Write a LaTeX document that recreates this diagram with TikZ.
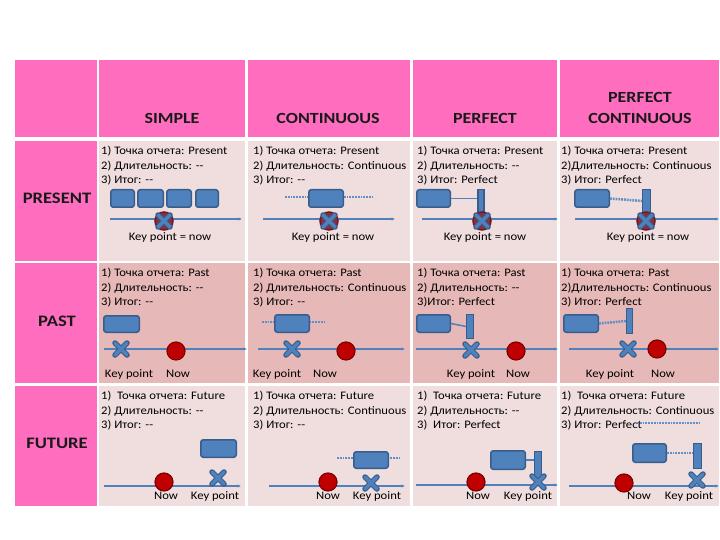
\documentclass[tikz,border=0pt]{standalone}
\usepackage{fontspec}
\setmainfont{Carlito}
\newfontfamily\celfont{Carlito}[FakeStretch=1.1]
\newfontfamily\ttlfont{Carlito}[FakeStretch=1.16]
\usetikzlibrary{arrows.meta,shapes.misc}
\definecolor{pnk}{HTML}{FF6DBE}
\definecolor{lit}{HTML}{F0DEDE}
\definecolor{drk}{HTML}{E6B9B8}
\definecolor{blu}{HTML}{4F81BD}
\definecolor{bluedge}{HTML}{385D8A}
\definecolor{rd}{HTML}{C00000}
\definecolor{rdedge}{HTML}{7F0000}
\definecolor{keyrd}{HTML}{8C2D3E}
\definecolor{keyedge}{HTML}{6B1A2A}
\tikzset{
    celpnk/.style={draw=none,fill=pnk,inner sep=0pt,outer sep=0pt},
    cellit/.style={draw=none,fill=lit,inner sep=0pt,outer sep=0pt},
    celdrk/.style={draw=none,fill=drk,inner sep=0pt,outer sep=0pt},
    hdrtxt/.style={font=\ttlfont\fontsize{15.5}{21}\selectfont\bfseries,align=center,text=black!90},
    rowtxt/.style={font=\ttlfont\fontsize{16}{19}\selectfont\bfseries,text=black!90},
    celtxt/.style={font=\celfont\fontsize{11.5}{14.5}\selectfont,align=left,anchor=north west,inner sep=0pt},
    tagtxt/.style={font=\celfont\fontsize{11.5}{13}\selectfont,inner sep=0pt},
    boxblu/.style={draw=bluedge,fill=blu,line width=1.5pt,rounded corners=2.5pt,inner sep=0pt},
    barblu/.style={draw=bluedge,fill=blu,line width=1.2pt,inner sep=0pt},
    cirred/.style={circle,draw=rdedge,fill=rd,line width=1.2pt,minimum size=18pt,inner sep=0pt},
    cirkey/.style={circle,draw=keyedge,fill=keyrd,line width=1.5pt,minimum size=18pt,inner sep=0pt},
    crsblu/.style={cross out,draw=bluedge,double=blu,double distance=3.5pt,line width=1pt,line cap=round,minimum size=11pt,inner sep=0pt},
    timeline/.style={draw=blu,line width=1.3pt,-{Latex[length=3.5pt,width=3.5pt]}},
    dotline/.style={draw=blu!90,line width=2.5pt,dash pattern=on 1.8pt off 1pt},
    link/.style={draw=blu,line width=1.5pt}
}
\begin{document}
\begin{tikzpicture}[x=1pt,y=-1pt]
    \useasboundingbox (0,0) rectangle (720,540);

    % table cells
    \node[celpnk,minimum width=82,minimum height=77] (hdrcorner) at (56,98.5) {};
    \node[celpnk,minimum width=146,minimum height=77] (hdrsimple) at (172,98.5) {};
    \node[celpnk,minimum width=162,minimum height=77] (hdrcont) at (329,98.5) {};
    \node[celpnk,minimum width=144,minimum height=77] (hdrperf) at (485,98.5) {};
    \node[celpnk,minimum width=159,minimum height=77] (hdrperfcont) at (639.5,98.5) {};

    \node[celpnk,minimum width=82,minimum height=120] (rowpres) at (56,201) {};
    \node[cellit,minimum width=146,minimum height=120] (celpres1) at (172,201) {};
    \node[cellit,minimum width=162,minimum height=120] (celpres2) at (329,201) {};
    \node[cellit,minimum width=144,minimum height=120] (celpres3) at (485,201) {};
    \node[cellit,minimum width=159,minimum height=120] (celpres4) at (639.5,201) {};

    \node[celpnk,minimum width=82,minimum height=120] (rowpast) at (56,323) {};
    \node[celdrk,minimum width=146,minimum height=120] (celpast1) at (172,323) {};
    \node[celdrk,minimum width=162,minimum height=120] (celpast2) at (329,323) {};
    \node[celdrk,minimum width=144,minimum height=120] (celpast3) at (485,323) {};
    \node[celdrk,minimum width=159,minimum height=120] (celpast4) at (639.5,323) {};

    \node[celpnk,minimum width=82,minimum height=120] (rowfut) at (56,446) {};
    \node[cellit,minimum width=146,minimum height=120] (celfut1) at (172,446) {};
    \node[cellit,minimum width=162,minimum height=120] (celfut2) at (329,446) {};
    \node[cellit,minimum width=144,minimum height=120] (celfut3) at (485,446) {};
    \node[cellit,minimum width=159,minimum height=120] (celfut4) at (639.5,446) {};

    % titles
    \node[hdrtxt] (ttlsimple) at (172,118) {SIMPLE};
    \node[hdrtxt] (ttlcont) at (328,118) {CONTINUOUS};
    \node[hdrtxt] (ttlperf) at (485,118) {PERFECT};
    \node[hdrtxt] (ttlperfcont) at (640,107.5) {PERFECT\\CONTINUOUS};
    \node[rowtxt] (ttlpres) at (57,198) {PRESENT};
    \node[rowtxt] (ttlpast) at (57,321) {PAST};
    \node[rowtxt] (ttlfut) at (57,443) {FUTURE};

    % Present row
    \node[celtxt] (txtpres1) at (101,146) {1)\ Точка отчета: Present\\2)\ Длительность: -{}-\\3)\ Итог: -{}-};
    \node[celtxt] (txtpres2) at (253,146) {1)\ Точка отчета: Present\\2)\ Длительность: Continuous\\3)\ Итог: -{}-};
    \node[celtxt] (txtpres3) at (417,146) {1)\ Точка отчета: Present\\2)\ Длительность: -{}-\\3)\ Итог: Perfect};
    \node[celtxt] (txtpres4) at (561,146) {1) Точка отчета: Present\\2)Длительность: Continuous\\3) Итог: Perfect};

    \node[boxblu,minimum width=23.5,minimum height=17.5] (boxpres1a) at (122.5,198.5) {};
    \node[boxblu,minimum width=25.5,minimum height=17.5] (boxpres1b) at (150.5,198.5) {};
    \node[boxblu,minimum width=24.5,minimum height=17.5] (boxpres1c) at (179,198.5) {};
    \node[boxblu,minimum width=22.5,minimum height=17.5] (boxpres1d) at (207,198.5) {};
    \coordinate (tlpres1a) at (110,219);
    \coordinate (tlpres1b) at (242,219);
    \draw[timeline] (tlpres1a) -- (tlpres1b);
    \node[cirkey] (keypres1) at (164,221) {};
    \node[crsblu] (crspres1) at (keypres1) {};
    \node[tagtxt] (tagpres1) at (170,237) {Key point = now};

    \coordinate (dotpres2a) at (285,197);
    \coordinate (dotpres2b) at (372,197);
    \draw[dotline] (dotpres2a) -- (dotpres2b);
    \node[boxblu,minimum width=34.5,minimum height=17.5] (boxpres2) at (326,198.5) {};
    \coordinate (tlpres2a) at (263,219);
    \coordinate (tlpres2b) at (395,219);
    \draw[timeline] (tlpres2a) -- (tlpres2b);
    \node[cirkey] (keypres2) at (329,221) {};
    \node[crsblu] (crspres2) at (keypres2) {};
    \node[tagtxt] (tagpres2) at (333,237) {Key point = now};

    \node[boxblu,minimum width=33.5,minimum height=17.5] (boxpres3) at (433.5,198.5) {};
    \node[barblu,minimum width=6,minimum height=27.5] (barpres3) at (481,203.5) {};
    \draw[link] (boxpres3.east) -- (boxpres3.east -| barpres3.west);
    \coordinate (tlpres3a) at (422,219);
    \coordinate (tlpres3b) at (558,219);
    \draw[timeline] (tlpres3a) -- (tlpres3b);
    \node[cirkey] (keypres3) at (482,221) {};
    \node[crsblu] (crspres3) at (keypres3) {};
    \node[tagtxt] (tagpres3) at (485,237) {Key point = now};

    \node[boxblu,minimum width=34.5,minimum height=17.5] (boxpres4) at (592,198.5) {};
    \node[barblu,minimum width=7.5,minimum height=23] (barpres4) at (646.5,201) {};
    \draw[dotline] (boxpres4.east) -- (barpres4.west);
    \coordinate (tlpres4a) at (575,219);
    \coordinate (tlpres4b) at (719,219);
    \draw[timeline] (tlpres4a) -- (tlpres4b);
    \node[cirkey] (keypres4) at (646,221) {};
    \node[crsblu] (crspres4) at (keypres4) {};
    \node[tagtxt] (tagpres4) at (648,237) {Key point = now};

    % Past row
    \node[celtxt] (txtpast1) at (101,268) {1) Точка отчета: Past\\2)\ Длительность: -{}-\\3)\ Итог: -{}-};
    \node[celtxt] (txtpast2) at (253,268) {1) Точка отчета: Past\\2)\ Длительность: Continuous\\3)\ Итог: -{}-};
    \node[celtxt] (txtpast3) at (417,268) {1) Точка отчета: Past\\2)\ Длительность: -{}-\\3)Итог: Perfect};
    \node[celtxt] (txtpast4) at (561,268) {1) Точка отчета: Past\\2)Длительность: Continuous\\3) Итог: Perfect};

    \node[boxblu,minimum width=35.5,minimum height=16.5] (boxpast1) at (121.5,324) {};
    \coordinate (tlpast1a) at (104,349);
    \coordinate (tlpast1b) at (247,349);
    \draw[timeline] (tlpast1a) -- (tlpast1b);
    \node[crsblu] (crspast1) at (121,349) {};
    \node[cirred] (nowpast1) at (176,351) {};
    \node[tagtxt] (keytagpast1) at (129,374) {Key point};
    \node[tagtxt] (nowtagpast1) at (178,374) {Now};

    \coordinate (dotpast2a) at (262,322);
    \coordinate (dotpast2b) at (325,322);
    \draw[dotline] (dotpast2a) -- (dotpast2b);
    \node[boxblu,minimum width=34.5,minimum height=17.5] (boxpast2) at (292,323.5) {};
    \coordinate (tlpast2a) at (258,349);
    \coordinate (tlpast2b) at (405,349);
    \draw[timeline] (tlpast2a) -- (tlpast2b);
    \node[crsblu] (crspast2) at (292,349) {};
    \node[cirred] (nowpast2) at (346,351) {};
    \node[tagtxt] (keytagpast2) at (277,374) {Key point};
    \node[tagtxt] (nowtagpast2) at (325,374) {Now};

    \node[boxblu,minimum width=33.5,minimum height=17.5] (boxpast3) at (433.5,323.5) {};
    \node[barblu,minimum width=6.5,minimum height=24] (barpast3) at (470,326.5) {};
    \draw[link] (boxpast3.east) -- (barpast3.west);
    \coordinate (tlpast3a) at (416,349);
    \coordinate (tlpast3b) at (558,349);
    \draw[timeline] (tlpast3a) -- (tlpast3b);
    \node[crsblu] (crspast3) at (471,350) {};
    \node[cirred] (nowpast3) at (516,351) {};
    \node[tagtxt] (keytagpast3) at (471,374) {Key point};
    \node[tagtxt] (nowtagpast3) at (518,374) {Now};

    \node[boxblu,minimum width=34.5,minimum height=17.5] (boxpast4) at (581,323.5) {};
    \node[barblu,minimum width=6,minimum height=25] (barpast4) at (629.5,321) {};
    \draw[dotline] (boxpast4.east) -- (barpast4.west);
    \coordinate (tlpast4a) at (569,349);
    \coordinate (tlpast4b) at (719,349);
    \draw[timeline] (tlpast4a) -- (tlpast4b);
    \node[crsblu] (crspast4) at (628,349) {};
    \node[cirred] (nowpast4) at (657,349) {};
    \node[tagtxt] (keytagpast4) at (610,374) {Key point};
    \node[tagtxt] (nowtagpast4) at (663,374) {Now};

    % Future row
    \node[celtxt] (txtfut1) at (101,391) {1)\ \ Точка отчета: Future\\2)\ Длительность: -{}-\\3)\ Итог: -{}-};
    \node[celtxt] (txtfut2) at (253,391) {1) Точка отчета: Future\\2)\ Длительность: Continuous\\3)\ Итог: -{}-};
    \node[celtxt] (txtfut3) at (417,391) {1)\ \ Точка отчета: Future\\2)\ Длительность: -{}-\\3)\ \ Итог: Perfect};
    \node[celtxt] (txtfut4) at (561,391) {1)\ \ Точка отчета: Future\\2) Длительность: Continuous\\3) Итог: Perfect};

    \node[boxblu,minimum width=35.5,minimum height=17.5] (boxfut1) at (218.5,448.5) {};
    \coordinate (tlfut1a) at (104,486);
    \coordinate (tlfut1b) at (241,486);
    \draw[timeline] (tlfut1a) -- (tlfut1b);
    \node[cirred] (nowfut1) at (164,482) {};
    \node[crsblu] (crsfut1) at (218,478) {};
    \node[tagtxt] (nowtagfut1) at (166,496) {Now};
    \node[tagtxt] (keytagfut1) at (215,496) {Key point};

    \coordinate (dotfut2a) at (337,458);
    \coordinate (dotfut2b) at (399,458);
    \draw[dotline] (dotfut2a) -- (dotfut2b);
    \node[boxblu,minimum width=34.5,minimum height=16.5] (boxfut2) at (371,460) {};
    \coordinate (tlfut2a) at (269,486);
    \coordinate (tlfut2b) at (405,486);
    \draw[timeline] (tlfut2a) -- (tlfut2b);
    \node[cirred] (nowfut2) at (328,482) {};
    \node[crsblu] (crsfut2) at (371,483) {};
    \node[tagtxt] (nowtagfut2) at (328,496) {Now};
    \node[tagtxt] (keytagfut2) at (377,496) {Key point};

    \node[boxblu,minimum width=34.5,minimum height=18.5] (boxfut3) at (508,460) {};
    \node[barblu,minimum width=6.5,minimum height=29] (barfut3) at (538,466) {};
    \draw[link] (boxfut3.east) -- (boxfut3.east -| barfut3.west);
    \coordinate (tlfut3a) at (416,485);
    \coordinate (tlfut3b) at (558,485);
    \draw[timeline] (tlfut3a) -- (tlfut3b);
    \node[cirred] (nowfut3) at (476,482) {};
    \node[crsblu] (crsfut3) at (538,482) {};
    \node[tagtxt] (nowtagfut3) at (478,496) {Now};
    \node[tagtxt] (keytagfut3) at (528,496) {Key point};

    \coordinate (dotfut4a) at (637,423);
    \coordinate (dotfut4b) at (699,423);
    \draw[dotline] (dotfut4a) -- (dotfut4b);
    \node[boxblu,minimum width=33.5,minimum height=18.5] (boxfut4) at (649.5,453) {};
    \node[barblu,minimum width=7.5,minimum height=25] (barfut4) at (697.5,456) {};
    \draw[dotline] (boxfut4.east) -- (boxfut4.east -| barfut4.west);
    \coordinate (tlfut4a) at (569,486);
    \coordinate (tlfut4b) at (719,486);
    \draw[timeline] (tlfut4a) -- (tlfut4b);
    \node[cirred] (nowfut4) at (624,483) {};
    \node[crsblu] (crsfut4) at (697,480) {};
    \node[tagtxt] (nowtagfut4) at (639,496) {Now};
    \node[tagtxt] (keytagfut4) at (689,496) {Key point};
\end{tikzpicture}
\end{document}
